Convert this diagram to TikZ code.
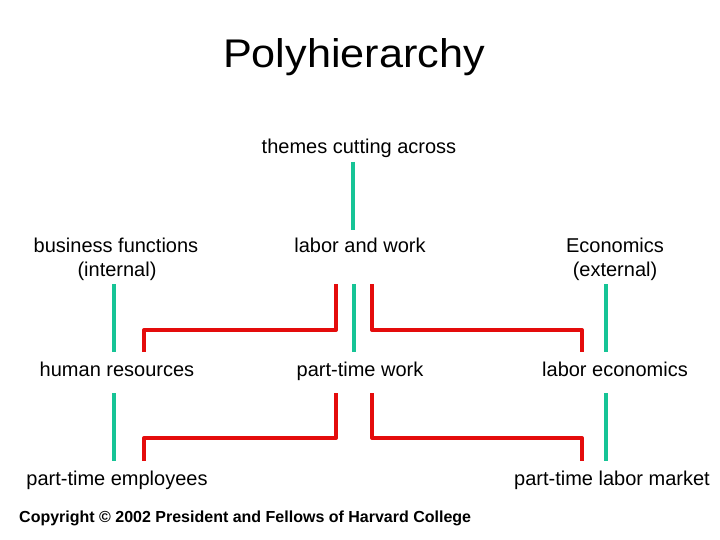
\documentclass[tikz,border=0pt]{standalone}
\usepackage{fontspec}
\setmainfont{Liberation Sans}
\newfontfamily\titlefont[FakeStretch=1.08]{Liberation Sans}
\definecolor{tealc}{RGB}{22,196,150}
\definecolor{redc}{RGB}{228,12,12}
\begin{document}
\begin{tikzpicture}[x=1pt,y=-1pt,
  lbl/.style={anchor=base,inner sep=0pt,font=\fontsize{20}{24}\selectfont},
  ttl/.style={anchor=base,inner sep=0pt,font=\titlefont\fontsize{40}{48}\selectfont},
  copy/.style={anchor=base west,inner sep=0pt,font=\fontsize{16}{19}\selectfont\bfseries},
  tline/.style={draw=tealc,line width=4pt},
  rline/.style={draw=redc,line width=4pt,line join=round}]
\useasboundingbox[fill=white] (0,0) rectangle (720,540);

% texts
\node[ttl] (title) at (354,68) {Polyhierarchy};
\node[lbl] (themes) at (359,154) {themes cutting across};
\node[lbl] (bf1) at (116,252) {business functions};
\node[lbl] (bf2) at (117,276) {(internal)};
\node[lbl] (lw) at (360,252) {labor and work};
\node[lbl] (ec1) at (615,252) {Economics};
\node[lbl] (ec2) at (615,276) {(external)};
\node[lbl] (hr) at (117,376) {human resources};
\node[lbl] (ptw) at (360,376) {part-time work};
\node[lbl] (le) at (615,376) {labor economics};
\node[lbl] (pte) at (117,485) {part-time employees};
\node[lbl] (ptlm) at (612,485) {part-time labor market};
\node[copy] (cr) at (19,522) {Copyright \textcopyright\ 2002 President and Fellows of Harvard College};

% connector end points
\coordinate (t0a) at (353,162); \coordinate (t0b) at (353,230);
\coordinate (t1a) at (114,284); \coordinate (t1b) at (114,352);
\coordinate (t2a) at (354,284); \coordinate (t2b) at (354,352);
\coordinate (t3a) at (606,284); \coordinate (t3b) at (606,352);
\coordinate (t4a) at (114,393); \coordinate (t4b) at (114,461);
\coordinate (t5a) at (606,393); \coordinate (t5b) at (606,461);

\coordinate (r1a) at (336,284); \coordinate (r1b) at (144,352);
\coordinate (r2a) at (372,284); \coordinate (r2b) at (582,352);
\coordinate (r3a) at (336,393); \coordinate (r3b) at (144,461);
\coordinate (r4a) at (372,393); \coordinate (r4b) at (582,461);

% teal connectors
\draw[tline] (t0a) -- (t0b);
\draw[tline] (t1a) -- (t1b);
\draw[tline] (t2a) -- (t2b);
\draw[tline] (t3a) -- (t3b);
\draw[tline] (t4a) -- (t4b);
\draw[tline] (t5a) -- (t5b);

% red connectors
\draw[rline] (r1a) -- (336,330) -| (r1b);
\draw[rline] (r2a) -- (372,330) -| (r2b);
\draw[rline] (r3a) -- (336,438) -| (r3b);
\draw[rline] (r4a) -- (372,438) -| (r4b);
\end{tikzpicture}
\end{document}
